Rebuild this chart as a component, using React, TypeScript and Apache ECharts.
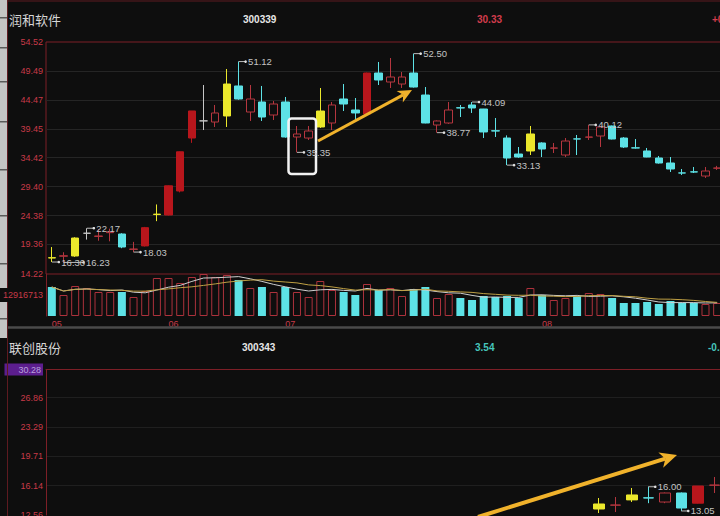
import React, { useEffect, useRef } from "react";
import * as echarts from "echarts";

// ---------------- 润和软件 300339 (upper stock) ----------------
const topOpen = [17.05, 17.3, 17.35, 21.3, 20.75, 21.4, 21.17, 18.5, 19.1, 24.55, 24.47, 28.64, 37.84, 40.82, 40.62, 41.67, 46.88, 42.36, 44.1, 41.84, 44.1, 38.02, 37.84, 39.76, 40.45, 44.62, 42.71, 42.01, 49.13, 47.57, 47.22, 49.13, 45.31, 40.1, 40.45, 43.1, 43.58, 42.88, 39.1, 37.84, 35.06, 35.59, 36.98, 36.08, 34.89, 37.69, 37.98, 38.19, 39.93, 37.84, 36.13, 35.59, 34.37, 33.5, 31.78, 31.96, 31.24, 32.6];
const topClose = [17.0, 17.4, 20.47, 21.3, 20.82, 21.5, 18.91, 18.56, 22.27, 24.62, 29.54, 35.45, 42.54, 40.82, 42.19, 47.22, 44.62, 44.62, 41.49, 43.75, 38.02, 38.54, 39.06, 42.53, 43.58, 43.75, 42.19, 49.13, 47.92, 48.44, 48.44, 46.7, 40.45, 40.8, 42.71, 43.06, 43.06, 38.89, 39.06, 34.37, 34.54, 38.54, 35.93, 36.11, 37.32, 37.67, 38.02, 39.76, 37.67, 36.28, 36.11, 34.54, 33.5, 32.46, 31.76, 31.94, 32.11, 32.63];
const topLow = [16.3, 16.23, 17.2, 20.2, 20.0, 19.9, 18.7, 18.03, 19.0, 23.4, 24.4, 28.4, 37.0, 39.23, 39.76, 39.76, 44.5, 40.8, 40.8, 40.97, 37.9, 35.35, 37.5, 39.6, 39.23, 42.53, 40.62, 41.8, 47.05, 46.53, 46.53, 46.6, 40.4, 38.77, 40.3, 41.49, 42.19, 37.84, 38.02, 33.13, 34.4, 34.89, 34.54, 35.24, 34.54, 34.89, 37.5, 36.28, 37.6, 36.11, 36.0, 34.5, 33.4, 31.94, 31.42, 31.76, 30.9, 32.3];
const topHigh = [18.9, 18.0, 20.6, 22.17, 22.0, 22.1, 21.3, 19.8, 22.4, 26.3, 29.6, 35.5, 42.54, 47.05, 43.58, 49.83, 51.12, 47.05, 46.88, 44.27, 44.97, 39.93, 39.93, 46.53, 44.1, 47.22, 44.79, 49.2, 51.05, 51.74, 49.31, 52.5, 46.7, 40.9, 44.1, 43.58, 44.09, 42.9, 41.32, 38.3, 36.28, 39.93, 37.1, 36.98, 37.84, 38.37, 40.12, 39.9, 40.0, 38.0, 37.67, 36.11, 34.72, 34.54, 32.46, 32.81, 32.81, 33.0];
const topVolume = [17840000, 12920000, 18450000, 17220000, 14760000, 14760000, 14760000, 11690000, 15380000, 23370000, 23370000, 20300000, 23990000, 25830000, 23990000, 25220000, 22140000, 17220000, 17840000, 14760000, 17840000, 14760000, 11690000, 21530000, 15990000, 14760000, 12920000, 19680000, 15990000, 17220000, 12300000, 16610000, 17840000, 11070000, 13530000, 11070000, 9840000, 12300000, 11690000, 12300000, 11070000, 17220000, 12920000, 9840000, 11070000, 12300000, 14150000, 13530000, 11070000, 8000000, 8000000, 8610000, 7380000, 9230000, 8000000, 8000000, 7380000, 8000000];
const topMarkedDays = [0, 2, 9, 15, 23, 41];
const topLimitUpDays = [8, 10, 11, 12, 27];
const topPriceTicks = [54.52, 49.49, 44.47, 39.45, 34.42, 29.4, 24.38, 19.36, 14.22];
const topVolumeTicks = [12916713];
const monthLabels = ["05", "06", "07", "08"];
const monthStartIndex = [0, 10, 20, 42];
const topMarkers = [
  { index: 0, kind: "low" }, { index: 1, kind: "low" }, { index: 3, kind: "high" },
  { index: 7, kind: "low" }, { index: 16, kind: "high" }, { index: 21, kind: "low" },
  { index: 31, kind: "high" }, { index: 33, kind: "low" }, { index: 36, kind: "high" },
  { index: 39, kind: "low" }, { index: 46, kind: "high" },
];

// ---------------- 联创股份 300343 (lower stock) ----------------
const lowerDayCount = 41;
const lowerFirstVisible = 33;
const lowerOpen = [13.29, 13.75, 14.4, 14.65, 14.14, 15.24, 14.0, 16.18];
const lowerClose = [13.9, 13.78, 15.0, 14.63, 15.24, 13.41, 16.09, 16.21];
const lowerLow = [12.8, 12.92, 14.14, 14.0, 14.0, 13.05, 13.95, 15.24];
const lowerHigh = [14.63, 14.75, 15.85, 16.0, 15.3, 15.3, 16.09, 17.19];
const lowerMarkedDays = [33, 35];
const lowerLimitUpDays = [39];
const lowerPriceTicks = [30.28, 26.86, 23.29, 19.71, 16.14, 12.56];
const lowerMarkers = [{ index: 36, kind: "high" }, { index: 38, kind: "low" }];

const stockNames = ["润和软件", "联创股份"];
const stockCodes = ["300339", "300343"];
const quoteValues = ["30.33", "3.54"];
const quoteTails = ["+0.", "-0."];

// ---------------- styling ----------------
const BG = "#0e0e0e";
const RED_AXIS = "#7d1f27";
const LABEL_RED = "#c83a48";
const CYAN = "#5de2e6";
const YELLOW = "#ebe82c";
const RED_SOLID = "#b8161c";
const RED_HOLLOW = "#b5363f";
const DOJI_GRAY = "#c6c6c6";
const ARROW = "#f0b22b";
const GRID_LINE = "#252525";
const FONT = '"Liberation Sans", Arial, sans-serif';

function candleColors(o: number, c: number, marked: boolean, limit: boolean) {
  if (marked) return { fill: YELLOW, stroke: YELLOW };
  if (limit) return { fill: RED_SOLID, stroke: RED_SOLID };
  if (c > o) return { fill: BG, stroke: RED_HOLLOW };
  if (c < o) return { fill: CYAN, stroke: CYAN };
  return { fill: DOJI_GRAY, stroke: DOJI_GRAY };
}

function candleItem(o: number, c: number, l: number, h: number, marked: boolean, limit: boolean) {
  const col = candleColors(o, c, marked, limit);
  return {
    value: [o, c, l, h],
    itemStyle: {
      color: col.fill, color0: col.fill, borderColor: col.stroke, borderColor0: col.stroke,
      borderColorDoji: col.stroke, borderWidth: 1,
    },
  };
}

const topDays = topOpen.map((_, i) => String(i));
const lowerDays = Array.from({ length: lowerDayCount }, (_, i) => String(i));

const topK = topOpen.map((o, i) =>
  candleItem(o, topClose[i], topLow[i], topHigh[i], topMarkedDays.includes(i), topLimitUpDays.includes(i))
);
const lowerK = lowerDays.map((_, i) => {
  const j = i - lowerFirstVisible;
  if (j < 0) return "-";
  return candleItem(lowerOpen[j], lowerClose[j], lowerLow[j], lowerHigh[j], lowerMarkedDays.includes(i), lowerLimitUpDays.includes(i));
});
const volData = topVolume.map((v, i) => ({
  value: v,
  itemStyle: topClose[i] >= topOpen[i]
    ? { color: "transparent", borderColor: "#ad323c", borderWidth: 1 }
    : { color: CYAN },
}));
const movingAvg = (n: number) =>
  topVolume.map((_, i) => {
    const s = topVolume.slice(Math.max(0, i - n + 1), i + 1);
    return s.reduce((a, b) => a + b, 0) / s.length;
  });

function buildOption() {
  const fmt2 = (v: number) => v.toFixed(2);
  return {
    animation: false,
    backgroundColor: BG,
    textStyle: { fontFamily: FONT },
    grid: [
      { left: 46, top: 42, width: 677, height: 232, show: true, borderColor: RED_AXIS, borderWidth: 1, backgroundColor: "transparent", containLabel: false, outerBoundsMode: "none" },
      { left: 46, top: 274, width: 677, height: 42, containLabel: false, outerBoundsMode: "none" },
      { left: 46, top: 369.5, width: 676.5, height: 145.5, containLabel: false, outerBoundsMode: "none" },
    ],
    xAxis: [
      { type: "category", gridIndex: 0, data: topDays, boundaryGap: true, axisLine: { show: false }, axisTick: { show: false }, axisLabel: { show: false }, splitLine: { show: false } },
      {
        type: "category", gridIndex: 1, data: topDays, boundaryGap: true,
        axisLine: { show: false }, axisTick: { show: false }, splitLine: { show: false },
        axisLabel: {
          interval: (i: number) => monthStartIndex.includes(i),
          formatter: (_v: string, i: number) => monthLabels[monthStartIndex.indexOf(i)] ?? "",
          align: "left", color: LABEL_RED, fontSize: 9, margin: 3, fontFamily: FONT,
        },
      },
      { type: "category", gridIndex: 2, data: lowerDays, boundaryGap: true, position: "top", axisLine: { show: true, onZero: false, lineStyle: { color: RED_AXIS } }, axisTick: { show: false }, axisLabel: { show: false }, splitLine: { show: false } },
    ],
    yAxis: [
      {
        type: "value", gridIndex: 0, min: topPriceTicks[topPriceTicks.length - 1], max: topPriceTicks[0],
        axisLine: { show: false },
        axisTick: { show: false, customValues: topPriceTicks.slice(1, -1) },
        axisLabel: { customValues: topPriceTicks, formatter: fmt2, color: LABEL_RED, fontSize: 9, margin: 3, fontFamily: FONT },
        splitLine: { show: true, lineStyle: { color: GRID_LINE, width: 1 } },
      },
      {
        type: "value", gridIndex: 1, min: 0, max: topVolumeTicks[0] * 2,
        axisLine: { show: true, lineStyle: { color: RED_AXIS } },
        axisTick: { show: false, customValues: topVolumeTicks },
        axisLabel: { customValues: topVolumeTicks, formatter: (v: number) => String(Math.round(v)), color: LABEL_RED, fontSize: 9, margin: 3, fontFamily: FONT },
        splitLine: { show: false },
      },
      {
        type: "value", gridIndex: 2, min: lowerPriceTicks[lowerPriceTicks.length - 1], max: lowerPriceTicks[0],
        axisLine: { show: true, lineStyle: { color: RED_AXIS } },
        axisTick: { show: false, customValues: lowerPriceTicks.slice(1, -1) },
        axisLabel: {
          customValues: lowerPriceTicks,
          formatter: (v: number) => (Math.abs(v - lowerPriceTicks[0]) < 1e-6 ? `{top|${fmt2(v)}}` : fmt2(v)),
          color: LABEL_RED, fontSize: 9, margin: 3, fontFamily: FONT,
          rich: { top: { backgroundColor: "#5c1e8e", color: "#b9a0dc", fontSize: 9, padding: [2, 2, 1, 14], fontFamily: FONT } },
        },
        splitLine: { show: true, lineStyle: { color: "#1f1f1f", width: 1 } },
      },
    ],
    series: [
      { type: "candlestick", xAxisIndex: 0, yAxisIndex: 0, barWidth: 8, data: topK },
      { type: "bar", xAxisIndex: 1, yAxisIndex: 1, barWidth: 8, data: volData },
      { type: "line", xAxisIndex: 1, yAxisIndex: 1, data: movingAvg(5), symbol: "none", lineStyle: { width: 1, color: "#cfcfcf" } },
      { type: "line", xAxisIndex: 1, yAxisIndex: 1, data: movingAvg(10), symbol: "none", lineStyle: { width: 1, color: "#bfa044" } },
      { type: "candlestick", xAxisIndex: 2, yAxisIndex: 2, barWidth: 11, data: lowerK },
    ],
  };
}

const line = (x1: number, y1: number, x2: number, y2: number, stroke: string, lineWidth: number) => ({
  type: "line", silent: true, z: 50, shape: { x1, y1, x2, y2 }, style: { stroke, lineWidth },
});
const txt = (text: string, x: number, y: number, fill: string, font: string) => ({
  type: "text", silent: true, z: 60, x, y, style: { text, fill, font, align: "left", verticalAlign: "middle" },
});

function arrow(x1: number, y1: number, x2: number, y2: number, width: number, headLen: number, headHalf: number) {
  const dx = x2 - x1, dy = y2 - y1;
  const len = Math.hypot(dx, dy);
  const ux = dx / len, uy = dy / len;
  const px = -uy, py = ux;
  const bx = x2 - ux * headLen, by = y2 - uy * headLen;
  const nx = x2 - ux * headLen * 0.72, ny = y2 - uy * headLen * 0.72;
  return [
    line(x1, y1, nx, ny, ARROW, width),
    {
      type: "polygon", silent: true, z: 55,
      shape: { points: [[x2, y2], [bx + px * headHalf, by + py * headHalf], [nx, ny], [bx - px * headHalf, by - py * headHalf]] },
      style: { fill: ARROW },
    },
  ];
}

function buildGraphic(chart: any) {
  const g: any[] = [];
  // left sidebar tabs (interrupted where the volume label sits)
  g.push({ type: "rect", silent: true, z: 40, shape: { x: 0, y: 0, width: 7, height: 288 }, style: { fill: "#c4c4c4" } });
  g.push({ type: "rect", silent: true, z: 40, shape: { x: 0, y: 302, width: 7, height: 36 }, style: { fill: "#c4c4c4" } });
  [17, 47, 81, 121, 169, 215, 263, 318].forEach((y) =>
    g.push({ type: "rect", silent: true, z: 41, shape: { x: 0, y, width: 7, height: 1.5 }, style: { fill: "#5a5a5a" } })
  );
  g.push(line(7.5, 0, 7.5, 288, "#5e1a20", 1));
  g.push(line(7.5, 302, 7.5, 516, "#5e1a20", 1));
  g.push(line(8, 1, 720, 1, "#5e1a20", 1));
  g.push(line(8, 327.5, 720, 327.5, "#4a4a4a", 2.5));

  // headers
  const cjk = '13px "Noto Sans CJK SC", sans-serif';
  const num = `bold 10px ${FONT}`;
  g.push(txt(stockNames[0], 9, 19, "#d6d6d6", cjk));
  g.push(txt(stockCodes[0], 243, 19, "#e6e6e6", num));
  g.push(txt(quoteValues[0], 477, 19, "#d23c4c", num));
  g.push(txt(quoteTails[0], 712, 19, "#d23c4c", num));
  g.push(txt(stockNames[1], 9, 347, "#d6d6d6", cjk));
  g.push(txt(stockCodes[1], 242, 347, "#e6e6e6", num));
  g.push(txt(quoteValues[1], 475, 347, "#46c6bc", num));
  g.push(txt(quoteTails[1], 708, 347, "#46c6bc", num));

  // high / low markers
  const addMarkers = (gridIndex: number, list: any[], lows: number[], highs: number[], offset: number, gaps: Record<number, number>) => {
    list.forEach((m) => {
      const v = m.kind === "high" ? highs[m.index - offset] : lows[m.index - offset];
      const [px, py] = chart.convertToPixel({ gridIndex }, [m.index, v]);
      const gap = gaps[m.index] ?? 9.5;
      g.push(line(px, py, px + gap - 2.5, py, "#bdbdbd", 1));
      g.push({ type: "circle", silent: true, z: 55, shape: { cx: px + gap - 2.5, cy: py, r: 1.3 }, style: { fill: "#e0e0e0" } });
      g.push(txt(v.toFixed(2), px + gap, py, "#c4c4c4", `9.5px ${FONT}`));
    });
  };
  addMarkers(0, topMarkers, topLow, topHigh, 0, { 1: 22.5 });
  addMarkers(2, lowerMarkers, lowerLow, lowerHigh, lowerFirstVisible, {});

  // highlight box and arrows
  g.push({
    type: "rect", silent: true, z: 58,
    shape: { x: 288.5, y: 118.5, width: 27.5, height: 55.5, r: 3 },
    style: { fill: "transparent", stroke: "#f2f2f2", lineWidth: 2.5 },
  });
  g.push(...arrow(318, 141, 412, 90, 3, 14, 6.5));
  g.push(...arrow(478, 517, 677, 455, 4, 17, 8));
  return g;
}

export default function App() {
  const ref = useRef<HTMLDivElement>(null);
  useEffect(() => {
    document.body.style.margin = "0";
    document.body.style.background = BG;
    const chart = echarts.init(ref.current as HTMLDivElement, null, { renderer: "svg" });
    chart.setOption(buildOption() as any);
    chart.setOption({ graphic: buildGraphic(chart) } as any);
    return () => chart.dispose();
  }, []);
  return <div ref={ref} style={{ width: 720, height: 516, background: BG }} />;
}
